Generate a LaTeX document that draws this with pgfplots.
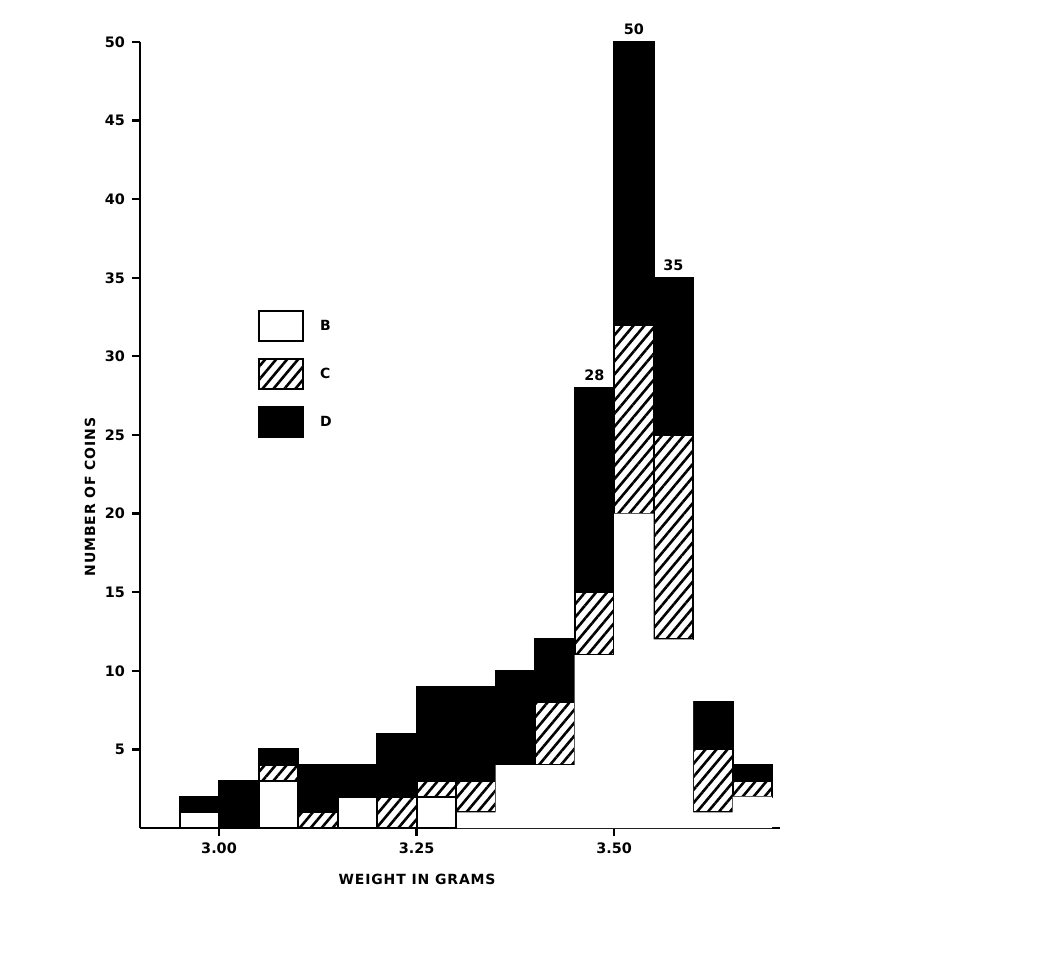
\documentclass[border=0pt]{standalone}
\usepackage{fontspec}
\setmainfont{DejaVu Sans}
\newfontfamily\lbl[LetterSpace=6]{DejaVu Sans}
\usepackage{pgfplots}
\pgfplotsset{compat=1.18}
\usetikzlibrary{patterns.meta}
\begin{document}
\begin{tikzpicture}
\path[use as bounding box] (0,0) rectangle (525pt,488pt);
\begin{axis}[
  at={(70pt,74pt)}, anchor=south west,
  scale only axis, width=320pt, height=393pt,
  xmin=2.90, xmax=3.71, ymin=0, ymax=50,
  clip=false,
  axis lines*=left,
  axis line style={line width=1.2pt},
  ybar stacked, bar width=0.05,
  xtick={3.00,3.25,3.50}, ytick={5,10,...,50},
  tick align=outside, major tick length=4pt,
  tick style={line width=1.1pt, black},
  /pgf/number format/assume math mode=true,
  ticklabel style={font=\bfseries\fontsize{7.2}{8}\selectfont},
  xticklabel style={/pgf/number format/.cd, fixed, fixed zerofill, precision=2},
  yticklabel style={/pgf/number format/.cd, fixed, precision=0},
  xlabel={WEIGHT IN GRAMS}, ylabel={NUMBER OF COINS},
  label style={font=\lbl\bfseries\fontsize{7}{8}\selectfont},
  xlabel style={at={(axis description cs:0.433,-0.066)}, anchor=center},
  ylabel style={at={(axis description cs:-0.078,0.421)}, anchor=center},
  legend style={draw=none, fill=none, at={(axis description cs:0.184,0.659)}, anchor=north west, row sep=8pt, column sep=6pt, font=\bfseries\fontsize{7}{8}\selectfont, inner sep=0pt},
  legend cell align=left,
  mylegend/.style={legend image code/.code={\draw[##1] (0pt,-7.5pt) rectangle (22pt,7.5pt);}},
]
% B (outlined part)
\addplot[fill=white, draw=black, line width=1pt, mylegend] coordinates {
(2.975,1) (3.025,0) (3.075,3) (3.125,0) (3.175,2) (3.225,0) (3.275,2) (3.325,0)
(3.375,0) (3.425,0) (3.475,0) (3.525,0) (3.575,0) (3.625,0) (3.675,0)};
\addlegendentry{B}
% B (part drawn without outline)
\addplot[fill=white, draw=none, forget plot] coordinates {
(2.975,0) (3.025,0) (3.075,0) (3.125,0) (3.175,0) (3.225,0) (3.275,0) (3.325,1)
(3.375,4) (3.425,4) (3.475,11) (3.525,20) (3.575,12) (3.625,1) (3.675,2)};
% C
\addplot[pattern={Lines[angle=50,distance=4.2pt,line width=1.3pt]}, pattern color=black, draw=black, line width=1pt, mylegend] coordinates {
(2.975,0) (3.025,0) (3.075,1) (3.125,1) (3.175,0) (3.225,2) (3.275,1) (3.325,2)
(3.375,0) (3.425,4) (3.475,4) (3.525,12) (3.575,13) (3.625,4) (3.675,1)};
\addlegendentry{C}
% D
\addplot[fill=black, draw=black, line width=1pt, mylegend] coordinates {
(2.975,1) (3.025,3) (3.075,1) (3.125,3) (3.175,2) (3.225,4) (3.275,6) (3.325,6)
(3.375,6) (3.425,4) (3.475,13) (3.525,18) (3.575,10) (3.625,3) (3.675,1)};
\addlegendentry{D}
\node[above, font=\bfseries\fontsize{7.2}{8}\selectfont] at (axis cs:3.475,28) {28};
\node[above, font=\bfseries\fontsize{7.2}{8}\selectfont] at (axis cs:3.525,50) {50};
\node[above, font=\bfseries\fontsize{7.2}{8}\selectfont] at (axis cs:3.575,35) {35};
\end{axis}
\end{tikzpicture}
\end{document}
